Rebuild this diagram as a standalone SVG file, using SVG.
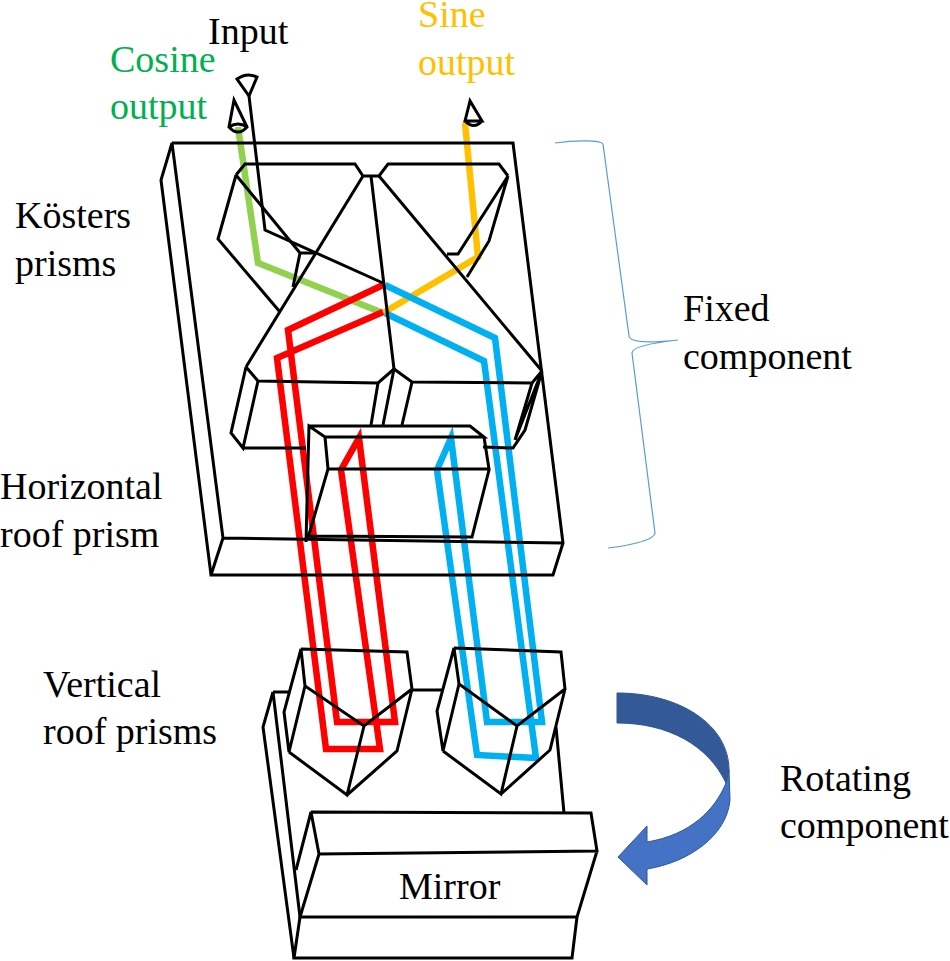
<svg xmlns="http://www.w3.org/2000/svg" width="950" height="961" viewBox="0 0 950 961">
<style>
text{font-family:"Liberation Serif","Times New Roman",serif;font-size:38px;fill:#000}
.g{fill:#00b050}.y{fill:#ffc000}
.k{fill:none;stroke:#000;stroke-width:3;stroke-linejoin:miter}
.b{fill:none;stroke-width:6.5;stroke-linejoin:miter}
</style>
<rect width="950" height="961" fill="#fff"/>
<g id="connectors">
<path class="b" stroke="#92d050" d="M238 127L258 263L383 313"/>
<path class="b" stroke="#ffc000" d="M465 123L478 257L383 313"/>
<path class="b" stroke="#ff0000" d="M383 285L288 330L337 722H395L359 438L341 470L380 749H326L277 358L383 312"/>
<path class="b" stroke="#00b0f0" d="M385 285L495 338L542 722H487L451 438L437 470L477 755L536 758L484 361L385 313"/>
<path class="k" d="M249 96L265 230L383 283"/>
</g>
<g id="fixed-plate" class="k">
<path d="M172 143H513L563 543L553 575H211L161 180L172 143L223 538L211 575M223 538L563 543"/>
</g>
<g id="kosters-prisms" class="k">
<path d="M236 175L245 164H355L363 176H379L388 164H499L508 176"/>
<path d="M236 175L218 239L280 312M236 175L300 253H315M300 253L293 287M363 176L246 367M371 176L394 369M379 176L542 371M508 176L458 254H447M508 176L489 241L467 277"/>
<path d="M246 367L258 381L378 383L394 369L412 382L532 383L542 371"/>
<path d="M246 367L231 433L243 448L258 381M243 448H306M378 383L371 425M394 369L383 425M412 382L402 425M532 383L515 440M542 371L525 430L513 448L483 447M542 371L515 440"/>
</g>
<g id="horizontal-roof-prism" class="k">
<path d="M309 426H470L484 437L325 437L309 426L306 542M325 437L328 469H489L484 437M328 469L308 538M489 470L472 537L309 536"/>
</g>
<g id="rotating-base" class="k">
<path d="M273 692H289M412 690H443M273 692L263 727L294 958M273 692L300 917M556 727L564 813"/>
</g>
<g id="input-cone" class="k"><path d="M249 96L237 79Q247 72 257 77Z"/></g>
<g id="cosine-cone" class="k"><path d="M234 100L229 127Q238 137 247 127ZM229 127Q238 121 247 127"/></g>
<g id="sine-cone" class="k"><path d="M470 101L465 121H482ZM465 121Q474 130 482 121"/></g>
<g id="vertical-prism-left" class="k">
<path d="M301 649L407 652L412 689L364 726L305 686L301 649L284 712L289 752L305 686M289 752L347 795L364 726M347 795L397 751L412 689"/>
</g>
<g id="vertical-prism-right" class="k">
<path d="M454 648L561 652L565 689L517 726L459 684L454 648L437 711L443 751L459 684M443 751L501 794L517 726M501 794L550 750L565 689"/>
</g>
<g id="mirror" class="k">
<path d="M311 812L591 813L597 851L319 854L311 812L296 870M319 854L300 917H577L597 851M577 917L572 958H294L300 917"/>
</g>
<g id="rotation-arrow">
<path d="M726 783C708 745 668 723 617 723V693C680 693 729 725 729 770Z" fill="#335a96" stroke="#2f5597" stroke-width="1"/>
<path d="M729 770L730 800C727 835 690 862 647 869V885L618 857L647 826V842C690 835 715 810 726 783Z" fill="#4472c4" stroke="#2f5597" stroke-width="1"/>
</g>
<g id="fixed-brace"><path d="M555 143C570 141 600 139 603 144L629 336C630 344 660 342 678 340C660 342 632 346 632 353L655 533C654 541 625 546 608 548" fill="none" stroke="#5b9bd5" stroke-width="1.2"/></g>
<g id="labels">
<text x="208" y="44">Input</text>
<text class="g" x="110" y="72">Cosine</text>
<text class="g" x="110" y="119">output</text>
<text class="y" x="418" y="27">Sine</text>
<text class="y" x="418" y="75">output</text>
<text x="15" y="228">Kösters</text>
<text x="15" y="276">prisms</text>
<text x="683" y="321">Fixed</text>
<text x="683" y="369">component</text>
<text x="0" y="499">Horizontal</text>
<text x="0" y="547">roof prism</text>
<text x="43" y="697">Vertical</text>
<text x="43" y="744">roof prisms</text>
<text x="780" y="791">Rotating</text>
<text x="780" y="838">component</text>
<text x="399" y="899">Mirror</text>
</g>
</svg>
